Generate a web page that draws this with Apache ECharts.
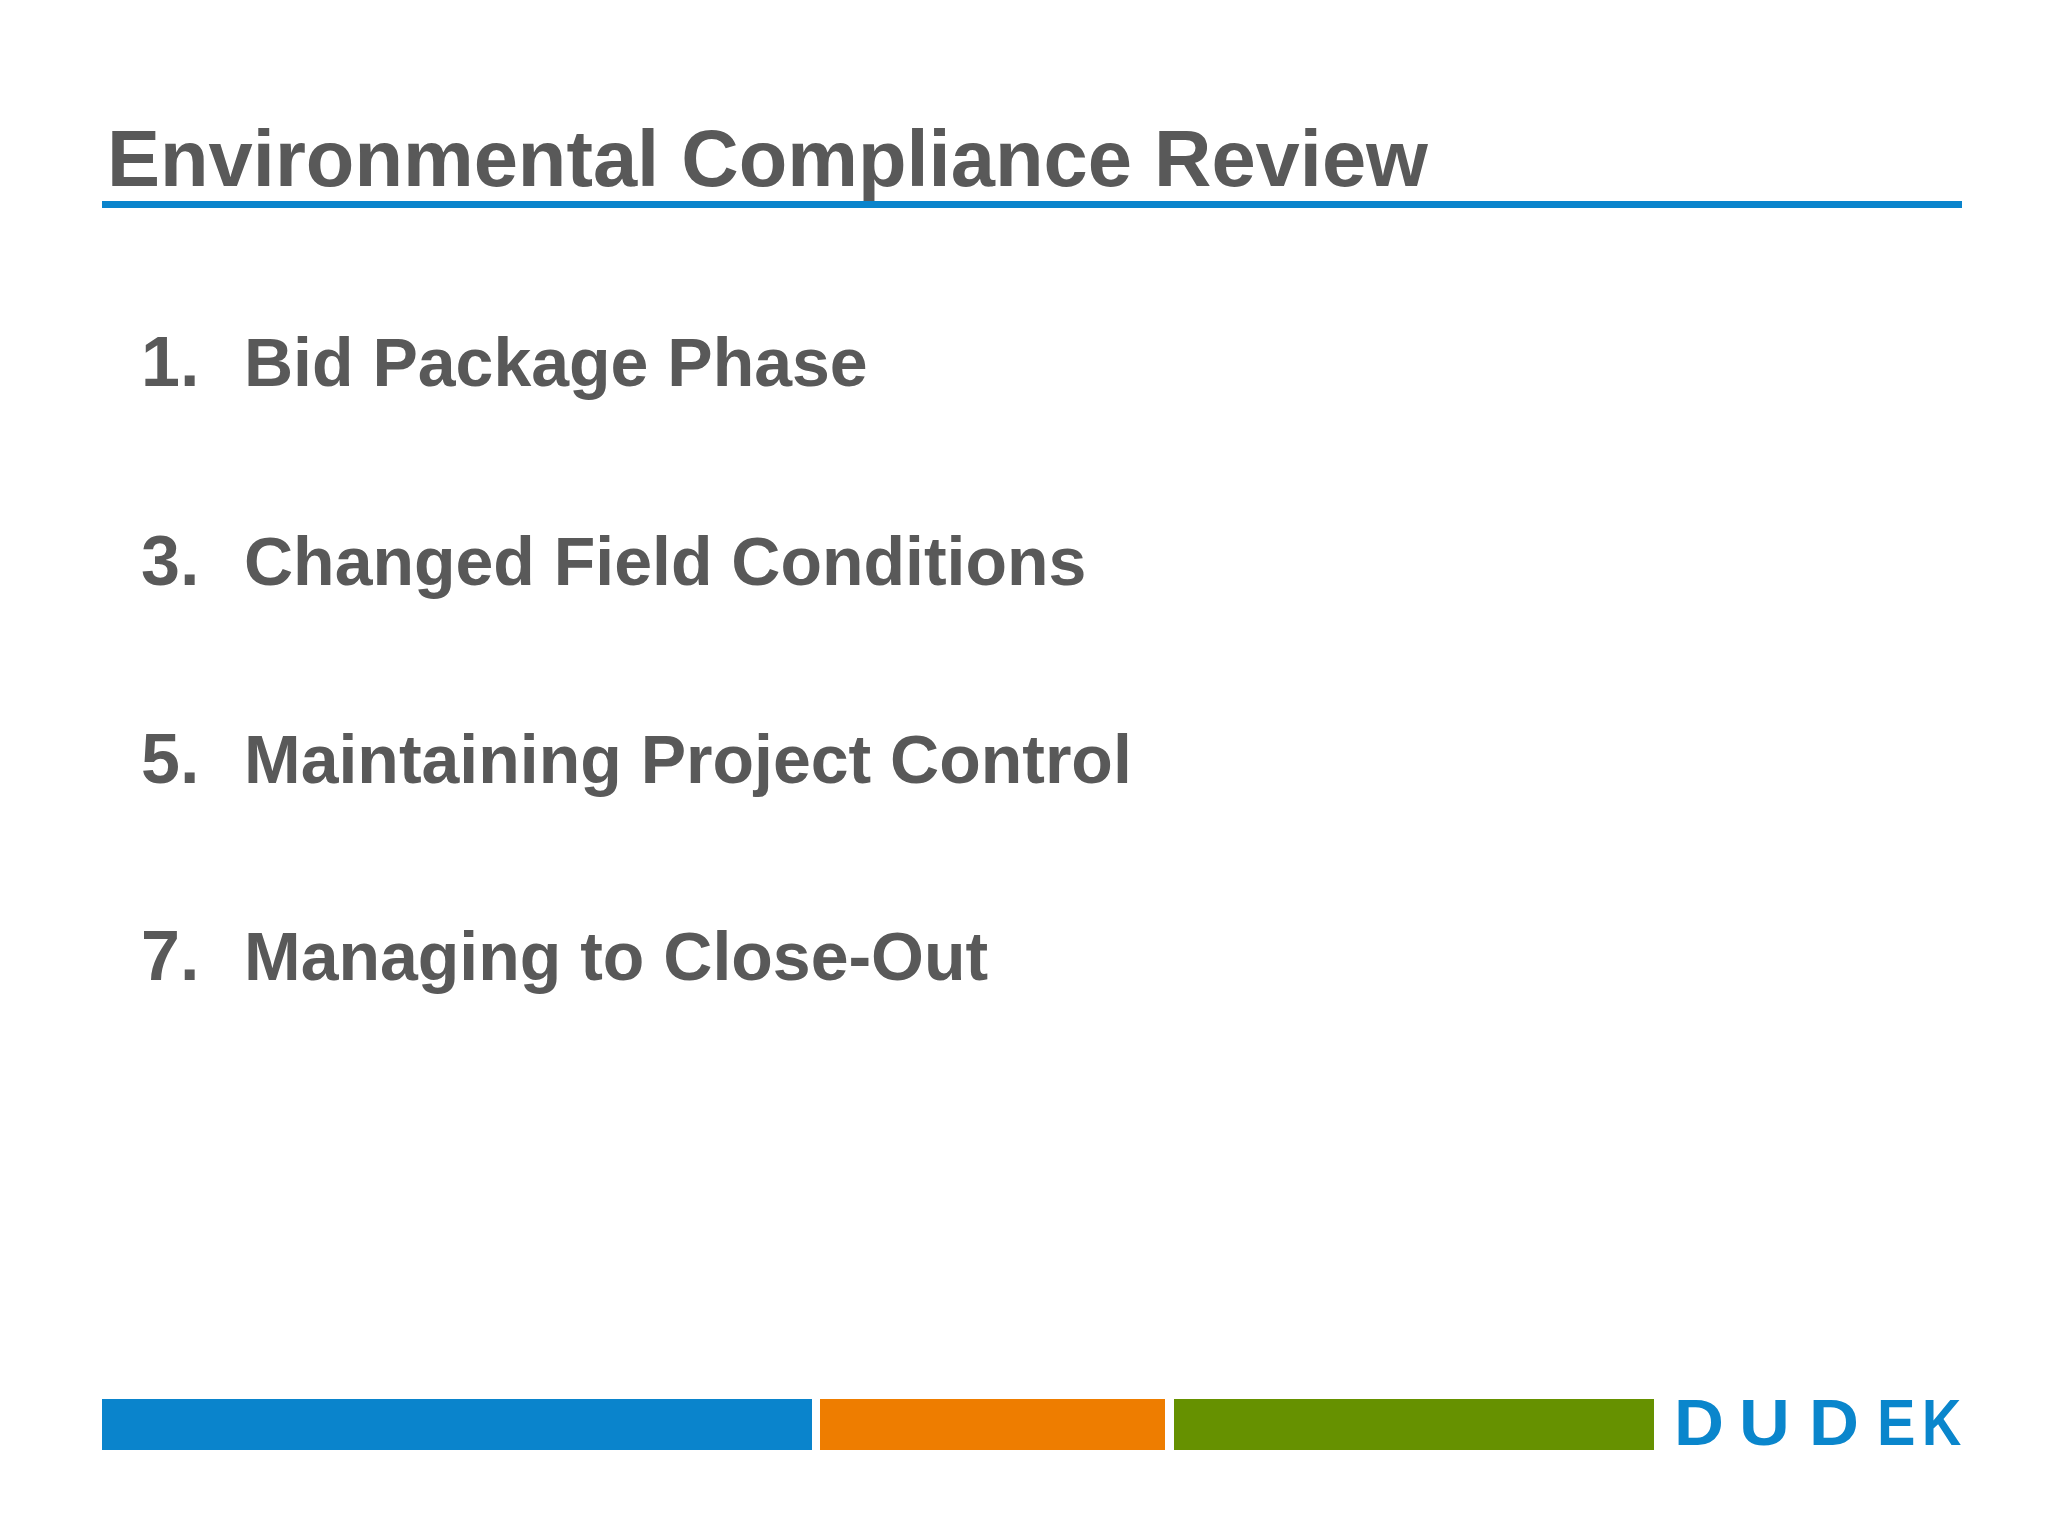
<!DOCTYPE html>
<html><head><meta charset="utf-8">
<script src="https://cdn.jsdelivr.net/npm/echarts@6/dist/echarts.min.js"></script>
<style>html,body{margin:0;padding:0;background:#fff}#c{width:2048px;height:1536px}</style>
</head><body><div id="c"></div>
<script>
const title = "Environmental Compliance Review";
const itemNumbers = ["1.", "3.", "5.", "7."];
const itemLabels = ["Bid Package Phase", "Changed Field Conditions", "Maintaining Project Control", "Managing to Close-Out"];
const logoLetters = ["D", "U", "D", "E", "K"];

const chart = echarts.init(document.getElementById('c'));
const grey = '#595959';
const els = [];
els.push({type:'text', left:107, top:124, style:{text:title, font:'bold 79.5px "Liberation Sans", Arial', fill:grey}});
els.push({type:'rect', shape:{x:102, y:201, width:1860, height:7}, style:{fill:'#0a84cc'}});
const ys = [367, 566, 764, 961];
itemNumbers.forEach((n,i)=>{
  els.push({type:'text', x:141, y:ys[i], style:{text:n, font:'bold 70px "Liberation Sans", Arial', fill:grey, textVerticalAlign:'middle'}});
  els.push({type:'text', x:244, y:ys[i], style:{text:itemLabels[i], font:'bold 68px "Liberation Sans", Arial', fill:grey, textVerticalAlign:'middle'}});
});
els.push({type:'rect', shape:{x:102, y:1399, width:710, height:51}, style:{fill:'#0a84cc'}});
els.push({type:'rect', shape:{x:820, y:1399, width:345, height:51}, style:{fill:'#ee7d00'}});
els.push({type:'rect', shape:{x:1174, y:1399, width:480, height:51}, style:{fill:'#669100'}});
const lx = [1674, 1739, 1809, 1877, 1922];
const sx = [1.08, 1.1, 1.08, 0.9, 0.85];
logoLetters.forEach((l,i)=>{
  els.push({type:'text', x:lx[i], y:1427, scaleX:sx[i], style:{text:l, x:0, y:0, font:'bold 64px "Liberation Sans", Arial', fill:'#0a86cc', textVerticalAlign:'middle'}});
});
chart.setOption({graphic:{elements:els}});
</script></body></html>
